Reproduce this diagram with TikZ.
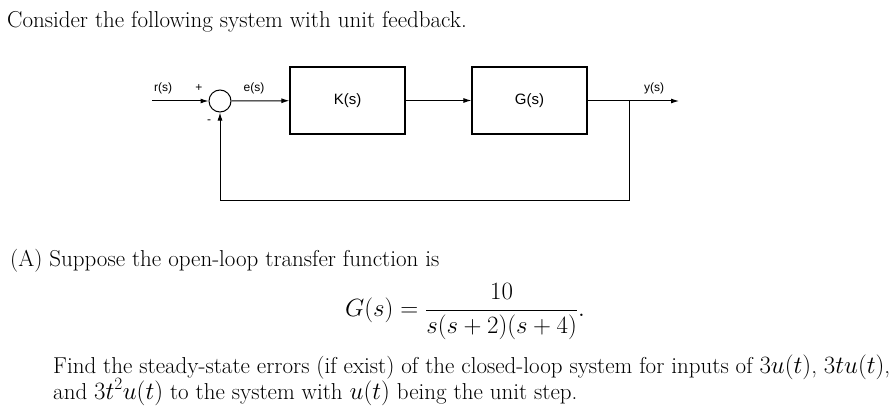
\documentclass[tikz,border=0pt]{standalone}
\usepackage{fontspec}
\newfontfamily\arialf{Liberation Sans}
\usetikzlibrary{arrows.meta}
\begin{document}
\begin{tikzpicture}[x=1pt,y=-1pt,
  blk/.style={draw,line width=1.2pt,minimum width=115pt,minimum height=67pt,font=\arialf\fontsize{15}{17}\selectfont},
  sig/.style={font=\arialf\fontsize{12}{14}\selectfont},
  ln/.style={line width=1pt},
  ar/.style={ln,-{Latex[length=8pt,width=5pt]}},
  txt/.style={anchor=base west,inner sep=0pt,font=\fontsize{23}{28}\selectfont}]
\useasboundingbox (0,0) rectangle (893,409);
\node[txt] at (7,28) {Consider the following system with unit feedback.};
\node[draw,circle,ln,minimum size=22pt,inner sep=0pt] (sum) at (220,101) {};
\coordinate (in) at (152,101);
\node[blk] (K) at (347.5,100.5) {K(s)};
\node[blk] (G) at (529.5,100.5) {G(s)};
\coordinate (out) at (679,101);
\coordinate (br) at (629,101);
\coordinate (bot) at (629,200);
\coordinate (botl) at (220,200);
\draw[ar] (in) -- (sum);
\draw[ar] (sum) -- (K);
\draw[ar] (K) -- (G);
\draw[ar] (G.east |- out) -- (out);
\draw[ar] (br) -- (bot) -- (botl) -- (sum);
\node[sig] at (163,88) {r(s)};
\node[sig] at (199,88) {+};
\node[sig] at (209,122) {-};
\node[sig] at (254,88) {e(s)};
\node[sig] at (654,88) {y(s)};
\node[txt] at (10,266) {(A) Suppose the open-loop transfer function is};
\node[font=\fontsize{23}{28}\selectfont] (eq) at (465,312) {$\displaystyle G(s)=\frac{10}{s(s+2)(s+4)}.$};
\node[txt] at (53,373) {Find the steady-state errors (if exist) of the closed-loop system for inputs of $3u(t)$, $3tu(t)$,};
\node[txt] at (53,399) {and $3t^2u(t)$ to the system with $u(t)$ being the unit step.};
\end{tikzpicture}
\end{document}
